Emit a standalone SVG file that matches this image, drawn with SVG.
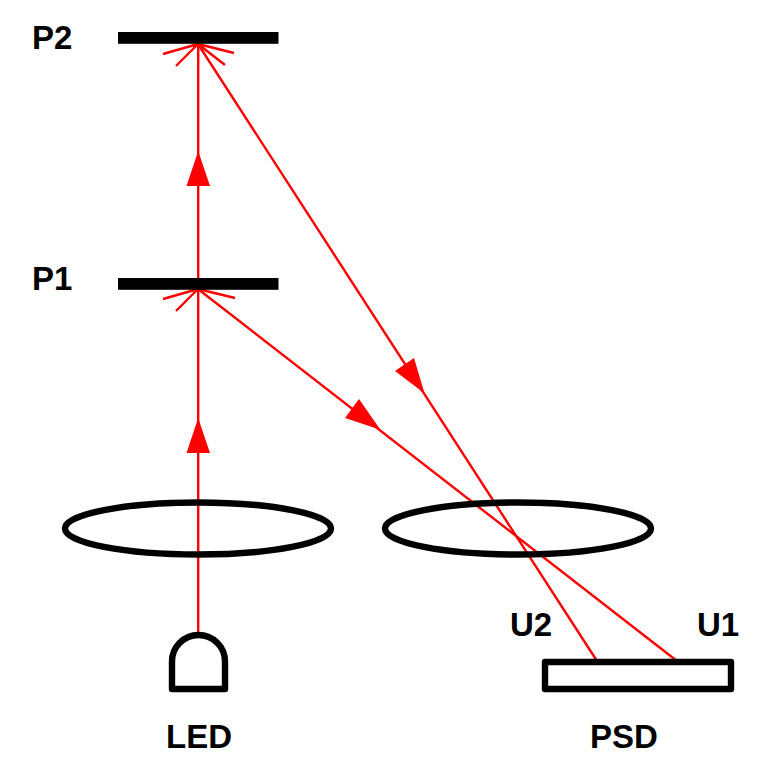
<svg xmlns="http://www.w3.org/2000/svg" width="772" height="778" viewBox="0 0 772 778">
<style>
.ray{stroke:#f00;stroke-width:2.4;fill:none}
.head{fill:#f00;stroke:none}
.plate{fill:#000;stroke:none}
.outline{fill:none;stroke:#000;stroke-width:6.4;stroke-linejoin:round}
.label{font-family:"Liberation Sans",Arial,sans-serif;font-weight:bold;font-size:33px;fill:#000}
</style>
<rect width="772" height="778" fill="#fff"/>
<g id="connectors">
<path class="ray" d="M198.2 633V44"/>
<path class="ray" d="M198 44L597 661"/>
<path class="ray" d="M198 289L677 661"/>
<path class="ray" d="M198 44L163 54M198 44L176 66M198 44L234 53M198 44L225 65"/>
<path class="ray" d="M198 289L163 299M198 289L176 311M198 289L235 298"/>
<polygon class="head" points="198.2,151 210,186 186.5,186"/>
<polygon class="head" points="198.2,418 210,453 186.5,453"/>
<polygon class="head" points="424.6,393.5 395,371 414,358"/>
<polygon class="head" points="380.4,429.8 345,418 359,399"/>
</g>
<g id="P2"><rect class="plate" x="118" y="32" width="160.5" height="11.8"/><text class="label" x="32" y="49">P2</text></g>
<g id="P1"><rect class="plate" x="118" y="278" width="160.5" height="11.8"/><text class="label" x="32" y="290">P1</text></g>
<g id="lens-left"><ellipse class="outline" cx="198" cy="528.5" rx="133" ry="26"/></g>
<g id="lens-right"><ellipse class="outline" cx="518" cy="528.5" rx="133" ry="26"/></g>
<g id="LED"><path class="outline" d="M172 689V661.5A26.5 26.5 0 0 1 225 661.5V689Z"/><text class="label" x="166" y="748">LED</text></g>
<g id="PSD"><rect class="outline" x="545" y="662" width="186" height="27"/><text class="label" x="590" y="748">PSD</text></g>
<g id="U2"><text class="label" x="510" y="636">U2</text></g>
<g id="U1"><text class="label" x="697" y="636">U1</text></g>
</svg>
